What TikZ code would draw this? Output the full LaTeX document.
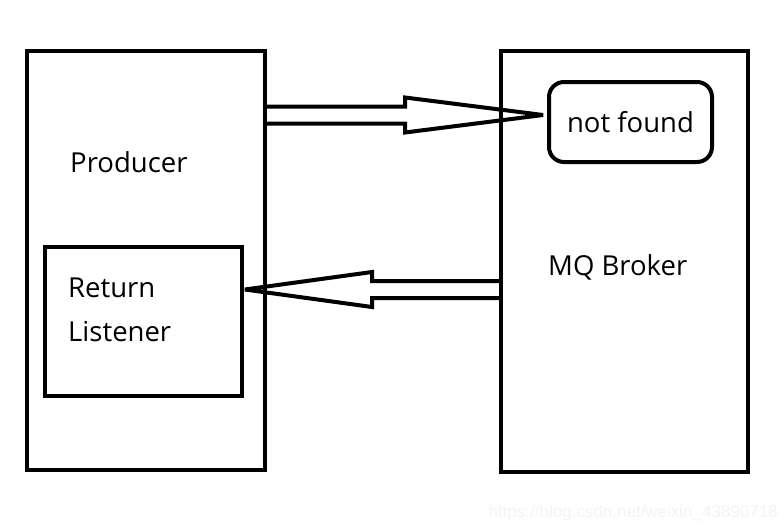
\documentclass[tikz,border=0pt]{standalone}
\usepackage{fontspec}
\setmainfont{Open Sans}
\newfontfamily\markfont{Liberation Sans}
\usetikzlibrary{calc}
\definecolor{mqBlack}{RGB}{0,0,0}
\definecolor{mqMark}{RGB}{244,244,244}

\tikzset{
  box/.style={draw=mqBlack, line width=4pt, minimum width=#1},
  label/.style={font=\fontsize{27.5}{44}\selectfont, text=mqBlack, inner sep=0pt},
  fatline/.style={draw=mqBlack, line width=4pt, line join=miter, miter limit=2},
}
% hollow arrow from #1 (open end) to #2 (tip), head starts half way
\newcommand{\fatarrow}[2]{%
  \draw[fatline] ($(#1)+(0,-8.5)$) -- ($(#1)!.5!(#2)+(0,-8.5)$) -- ($(#1)!.5!(#2)+(0,-17.5)$)
    -- (#2) -- ($(#1)!.5!(#2)+(0,17.5)$) -- ($(#1)!.5!(#2)+(0,8.5)$) -- ($(#1)+(0,8.5)$);}

\begin{document}
\begin{tikzpicture}[x=1pt, y=-1pt]
      \useasboundingbox[fill=white] (0,0) rectangle (779,531);

      \node[box=238pt, minimum height=419pt] (prod) at (146,260.5) {};
      \node[box=247pt, minimum height=421pt] (broker) at (624.5,261.5) {};
      \node[box=197pt, minimum height=149pt] (rl) at (143.5,321.5) {};
      \node[box=163pt, minimum height=80pt, rounded corners=15pt, label] (nf) at (630.5,122) {not found};

      \node[label, anchor=west] (prodtxt) at (70,162) {Producer};
      \node[label, anchor=west] (brokertxt) at (548,267) {MQ Broker};
      \node[label, anchor=west, align=left] (rltxt) at (68,310) {Return\\Listener};

      \coordinate (b1) at ($(nf.west)+(-4,-7)$);
      \coordinate (a1) at (prod.east |- b1);
      \coordinate (a2) at ($(broker.west)+(0,28)$);
      \coordinate (b2) at ($(rl.east |- a2)+(1,0)$);
      \fatarrow{a1}{b1}
      \fatarrow{a2}{b2}

      \node[anchor=east, inner sep=0pt, text=mqMark, font=\markfont\fontsize{17}{20}\selectfont] (mark) at (778,513) {https://blog.csdn.net/weixin\_43890718};
    \end{tikzpicture}
\end{document}
